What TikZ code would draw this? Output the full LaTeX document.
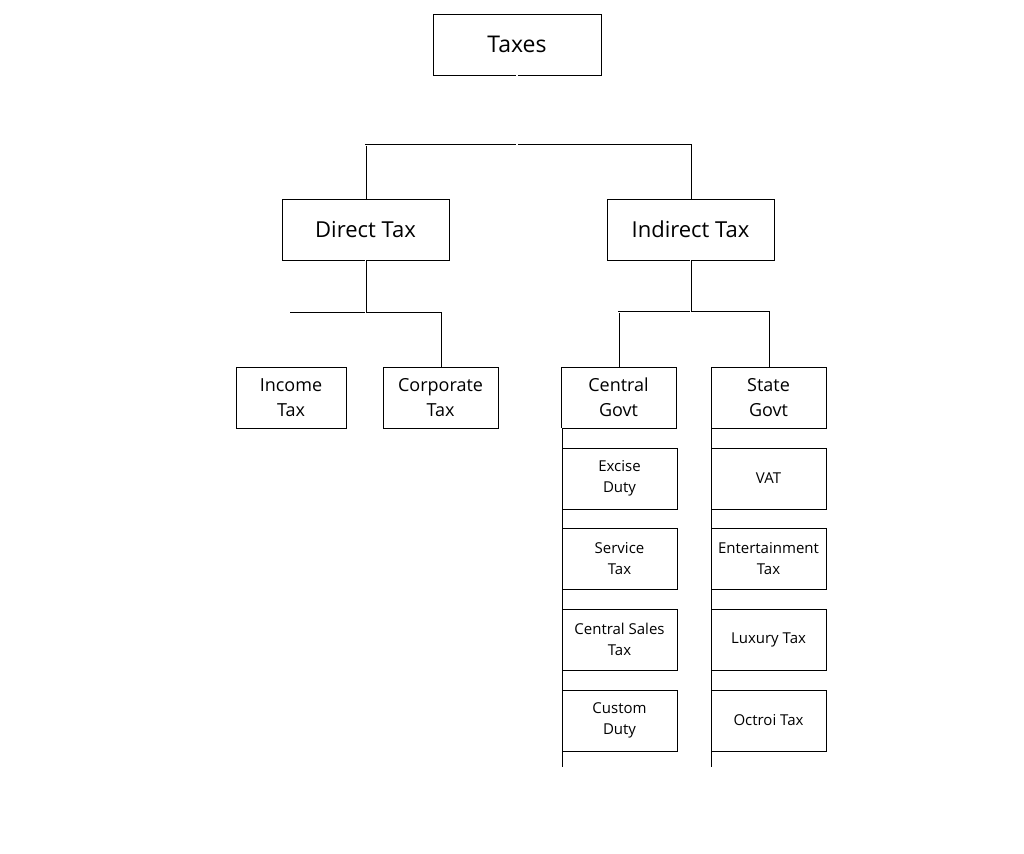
\documentclass[tikz,border=0pt]{standalone}
\usepackage{fontspec}
\setmainfont{Open Sans}
\begin{document}
\begin{tikzpicture}[x=1pt,y=-1pt,
    box/.style={draw,thin,minimum height=61pt,align=center,inner sep=2pt},
    link/.style={double,thin,double distance=1.2pt}]
    \useasboundingbox (0,0) rectangle (1024,853);
    % top levels
    \node(taxes)[box,minimum width=168pt,font=\fontsize{23}{27}\selectfont] at (517,44.5) {Taxes};
    \node(direct)[box,minimum width=167pt,font=\fontsize{22}{26}\selectfont] at (365.5,229.5) {Direct Tax};
    \node(indirect)[box,minimum width=167pt,font=\fontsize{22}{26}\selectfont] at (690.5,229.5) {Indirect Tax};
    % third level
    \node(income)[box,minimum width=110pt,font=\fontsize{18}{25}\selectfont] at (291,397.5) {Income\\Tax};
    \node(corporate)[box,minimum width=115pt,font=\fontsize{18}{25}\selectfont] at (440.5,397.5) {Corporate\\Tax};
    \node(central)[box,minimum width=115pt,font=\fontsize{18}{25}\selectfont] at (618.5,397.5) {Central\\Govt};
    \node(state)[box,minimum width=115pt,font=\fontsize{18}{25}\selectfont] at (768.5,397.5) {State\\Govt};
    % leaves
    \foreach \name/\txt/\y in {excise/Excise\\Duty/478.5, service/Service\\Tax/558.5,
        csales/Central Sales\\Tax/639.5, custom/Custom\\Duty/720.5}
        \node(\name)[box,minimum width=115pt,font=\fontsize{15}{21}\selectfont] at (619.5,\y) {\txt};
    \foreach \name/\txt/\y in {vat/VAT/478.5, entertain/Entertainment\\Tax/558.5,
        luxury/Luxury Tax/639.5, octroi/Octroi Tax/720.5}
        \node(\name)[box,minimum width=115pt,font=\fontsize{15}{21}\selectfont] at (768.5,\y) {\txt};
    \coordinate(cend) at (562,768);
    \coordinate(send) at (711,768);
    % connectors
    \draw[link] (taxes.south) -- ++(0,70) -| (direct.north);
    \draw[link] (taxes.south) -- ++(0,70) -| (indirect.north);
    \draw[link] (direct.south) -- ++(0,53) -| (income.north);
    \draw[link] (direct.south) -- ++(0,53) -| (corporate.north);
    \draw[link] (indirect.south) -- ++(0,52) -| (central.north);
    \draw[link] (indirect.south) -- ++(0,52) -| (state.north);
    \draw[link] (central.south west) ++(1,0) |- (cend);
    \draw[link] (state.south west) ++(0,0) |- (send);
\end{tikzpicture}
\end{document}
